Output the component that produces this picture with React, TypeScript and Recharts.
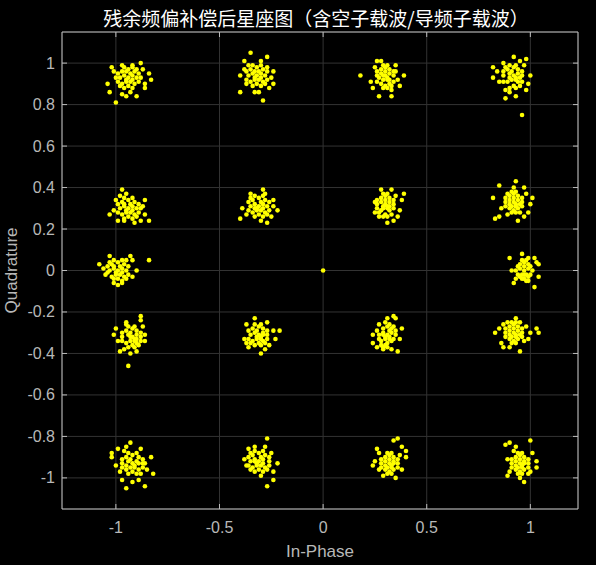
import React from 'react';
import {
  ScatterChart,
  Scatter,
  XAxis,
  YAxis,
  CartesianGrid,
  ReferenceArea,
} from 'recharts';

// axis limits and ticks
const X_DOMAIN: [number, number] = [-1.26, 1.23];
const Y_DOMAIN: [number, number] = [-1.15, 1.15];
const X_TICKS = [-1, -0.5, 0, 0.5, 1];
const Y_TICKS = [-1, -0.8, -0.6, -0.4, -0.2, 0, 0.2, 0.4, 0.6, 0.8, 1];

const TITLE = '残余频偏补偿后星座图（含空子载波/导频子载波）';
const X_LABEL = 'In-Phase';
const Y_LABEL = 'Quadrature';

type Pt = [number, number];

// row 1 (Q ~ 0.93)
const c11: Pt[] = [
  [-0.94, 0.93], [-0.92, 0.94], [-0.96, 0.94], [-0.93, 0.91], [-0.95, 0.91], [-0.91, 0.96], [-0.97, 0.96],
  [-0.91, 0.9], [-0.97, 0.9], [-0.9, 0.93], [-0.98, 0.93], [-0.94, 0.97], [-0.94, 0.89], [-0.89, 0.95],
  [-0.99, 0.95], [-0.89, 0.91], [-0.99, 0.91], [-0.92, 0.98], [-0.96, 0.98], [-0.92, 0.88], [-0.96, 0.88],
  [-0.93, 0.95], [-0.95, 0.96], [-0.9, 0.97], [-0.98, 0.89], [-0.88, 0.93], [-0.95, 0.92], [-0.92, 0.92],
  [-1.02, 0.98], [-1.04, 0.9], [-1.03, 0.86], [-1.0, 0.81], [-0.83, 0.92], [-0.84, 0.95], [-0.88, 1.0],
  [-0.9, 0.84], [-0.86, 0.9], [-0.97, 0.99], [-0.92, 0.99], [-0.97, 0.85], [-0.95, 0.84], [-1.01, 0.96],
  [-0.87, 0.97], [-1.0, 0.93], [-0.93, 0.86], [-0.86, 0.88],
];
const c12: Pt[] = [
  [-0.32, 0.94], [-0.3, 0.95], [-0.34, 0.95], [-0.31, 0.92], [-0.33, 0.92], [-0.29, 0.97], [-0.35, 0.97],
  [-0.29, 0.91], [-0.35, 0.91], [-0.28, 0.94], [-0.36, 0.94], [-0.32, 0.98], [-0.32, 0.9], [-0.27, 0.96],
  [-0.37, 0.96], [-0.27, 0.92], [-0.37, 0.92], [-0.3, 0.99], [-0.34, 0.99], [-0.3, 0.89], [-0.34, 0.89],
  [-0.31, 0.96], [-0.33, 0.93], [-0.28, 0.9], [-0.36, 0.99], [-0.3, 0.93], [-0.33, 0.96],
  [-0.35, 1.05], [-0.27, 1.03], [-0.38, 1.01], [-0.4, 0.94], [-0.4, 0.86], [-0.29, 0.82], [-0.24, 0.9],
  [-0.24, 0.96], [-0.31, 0.86], [-0.27, 0.98], [-0.37, 0.9], [-0.26, 0.88], [-0.33, 0.86], [-0.38, 0.97],
  [-0.25, 0.93], [-0.3, 1.01],
];
const c13: Pt[] = [
  [0.3, 0.94], [0.32, 0.95], [0.28, 0.95], [0.31, 0.92], [0.29, 0.92], [0.32, 0.97], [0.28, 0.97],
  [0.32, 0.9], [0.28, 0.9], [0.34, 0.94], [0.26, 0.94], [0.3, 0.98], [0.3, 0.89], [0.34, 0.96],
  [0.26, 0.96], [0.34, 0.91], [0.26, 0.91], [0.31, 0.99], [0.29, 0.99], [0.31, 0.88], [0.29, 0.88],
  [0.3, 0.96], [0.31, 0.93], [0.27, 0.93], [0.33, 0.89], [0.29, 0.94], [0.32, 0.92],
  [0.18, 0.94], [0.26, 1.01], [0.28, 1.01], [0.27, 0.84], [0.33, 0.84], [0.39, 0.94], [0.37, 0.89],
  [0.23, 0.91], [0.35, 0.96], [0.36, 0.92], [0.24, 0.88], [0.33, 0.87], [0.25, 0.98], [0.35, 0.99],
];
const c14: Pt[] = [
  [0.92, 0.94], [0.94, 0.95], [0.9, 0.95], [0.93, 0.92], [0.91, 0.92], [0.94, 0.97], [0.89, 0.97],
  [0.94, 0.91], [0.89, 0.91], [0.96, 0.94], [0.87, 0.94], [0.92, 0.98], [0.92, 0.89], [0.96, 0.96],
  [0.87, 0.96], [0.96, 0.91], [0.87, 0.91], [0.93, 0.99], [0.9, 0.99], [0.93, 0.88], [0.9, 0.88],
  [0.91, 0.96], [0.93, 0.93], [0.95, 0.89], [0.88, 0.98], [0.9, 0.93], [0.95, 0.93],
  [0.96, 0.75], [0.82, 0.98], [0.82, 0.93], [0.85, 0.91], [0.98, 1.02], [0.92, 1.03], [1.0, 0.94],
  [0.99, 0.9], [0.88, 0.83], [0.93, 0.84], [0.88, 0.87], [0.87, 1.0], [0.97, 0.99], [0.84, 0.96],
  [0.98, 0.87], [0.9, 0.86], [0.95, 1.01],
];

// row 2 (Q ~ 0.31)
const c21: Pt[] = [
  [-0.94, 0.3], [-0.92, 0.31], [-0.96, 0.31], [-0.93, 0.28], [-0.95, 0.28], [-0.91, 0.33], [-0.97, 0.33],
  [-0.91, 0.27], [-0.97, 0.27], [-0.9, 0.3], [-0.98, 0.3], [-0.94, 0.34], [-0.94, 0.26], [-0.89, 0.32],
  [-0.99, 0.32], [-0.89, 0.28], [-0.99, 0.28], [-0.92, 0.35], [-0.96, 0.35], [-0.92, 0.25], [-0.96, 0.25],
  [-0.93, 0.32], [-0.95, 0.29], [-0.9, 0.26], [-0.88, 0.3], [-0.92, 0.29], [-0.96, 0.32],
  [-1.03, 0.27], [-0.97, 0.39], [-0.84, 0.24], [-0.88, 0.24], [-0.91, 0.23], [-0.86, 0.27], [-0.86, 0.34],
  [-1.0, 0.34], [-0.96, 0.24], [-0.98, 0.36], [-0.87, 0.31], [-1.01, 0.29], [-0.95, 0.37], [-0.99, 0.24],
];
const c22: Pt[] = [
  [-0.31, 0.31], [-0.29, 0.32], [-0.33, 0.32], [-0.3, 0.29], [-0.32, 0.29], [-0.28, 0.34], [-0.34, 0.34],
  [-0.28, 0.28], [-0.34, 0.28], [-0.27, 0.31], [-0.35, 0.31], [-0.31, 0.35], [-0.31, 0.27], [-0.26, 0.33],
  [-0.36, 0.33], [-0.26, 0.29], [-0.36, 0.29], [-0.29, 0.36], [-0.33, 0.36], [-0.29, 0.26], [-0.33, 0.26],
  [-0.3, 0.33], [-0.32, 0.3], [-0.27, 0.27], [-0.35, 0.35], [-0.33, 0.3], [-0.29, 0.3],
  [-0.4, 0.25], [-0.29, 0.39], [-0.22, 0.29], [-0.27, 0.23], [-0.3, 0.24], [-0.39, 0.3], [-0.24, 0.31],
  [-0.35, 0.37], [-0.25, 0.26], [-0.28, 0.37], [-0.37, 0.27], [-0.24, 0.34],
];
const c23: Pt[] = [
  [0.3, 0.32], [0.32, 0.33], [0.28, 0.33], [0.31, 0.3], [0.29, 0.3], [0.32, 0.35], [0.28, 0.35],
  [0.32, 0.29], [0.28, 0.29], [0.34, 0.32], [0.26, 0.32], [0.3, 0.36], [0.3, 0.27], [0.34, 0.34],
  [0.26, 0.34], [0.34, 0.3], [0.26, 0.3], [0.31, 0.37], [0.29, 0.37], [0.31, 0.26], [0.29, 0.26],
  [0.3, 0.34], [0.31, 0.31], [0.33, 0.27], [0.27, 0.28], [0.29, 0.31], [0.32, 0.31],
  [0.39, 0.37], [0.31, 0.23], [0.28, 0.39], [0.33, 0.39], [0.25, 0.33], [0.38, 0.34], [0.37, 0.29],
  [0.27, 0.26], [0.36, 0.26], [0.35, 0.36], [0.25, 0.28], [0.34, 0.24],
];
const c24: Pt[] = [
  [0.92, 0.33], [0.94, 0.34], [0.9, 0.34], [0.93, 0.31], [0.91, 0.31], [0.94, 0.36], [0.9, 0.36],
  [0.94, 0.3], [0.9, 0.3], [0.96, 0.33], [0.88, 0.33], [0.92, 0.37], [0.92, 0.29], [0.96, 0.35],
  [0.88, 0.35], [0.96, 0.31], [0.88, 0.31], [0.93, 0.38], [0.91, 0.38], [0.93, 0.28], [0.91, 0.28],
  [0.92, 0.35], [0.93, 0.32], [0.95, 0.28], [0.89, 0.37], [0.9, 0.32], [0.95, 0.32],
  [0.93, 0.43], [0.85, 0.41], [0.82, 0.35], [1.01, 0.35], [0.83, 0.25], [0.85, 0.26], [0.94, 0.24],
  [0.97, 0.4], [0.92, 0.4], [0.99, 0.28], [0.98, 0.37], [0.86, 0.3], [0.97, 0.26], [0.89, 0.27],
  [1.0, 0.32],
];

// row 3 (Q ~ 0), incl. the single point at the origin
const c31: Pt[] = [
  [-0.99, 0.0], [-0.97, 0.01], [-1.01, 0.01], [-0.98, -0.02], [-1.0, -0.02], [-0.96, 0.03], [-1.02, 0.03],
  [-0.96, -0.03], [-1.02, -0.03], [-0.95, 0.0], [-1.03, 0.0], [-0.99, 0.04], [-0.99, -0.04], [-0.94, 0.02],
  [-1.04, 0.02], [-0.94, -0.02], [-1.04, -0.01], [-0.97, 0.05], [-1.01, 0.05], [-0.97, -0.05], [-1.01, -0.04],
  [-0.98, 0.02], [-1.0, -0.01], [-0.95, -0.04], [-1.03, 0.04], [-0.97, -0.01], [-1.01, 0.02],
  [-0.84, 0.05], [-1.08, 0.03], [-1.03, 0.07], [-0.93, 0.07], [-0.9, 0.0], [-1.01, -0.06], [-0.97, -0.06],
  [-0.92, 0.05], [-1.05, -0.02], [-0.92, -0.03], [-1.06, 0.01], [-0.95, 0.05], [-0.99, -0.07],
];
const origin: Pt[] = [[0, 0]];
const c33: Pt[] = [
  [0.97, 0.0], [0.99, 0.01], [0.95, 0.01], [0.98, -0.02], [0.96, -0.02], [0.99, 0.03], [0.95, 0.03],
  [0.99, -0.03], [0.95, -0.03], [1.01, 0.0], [0.93, 0.0], [0.97, 0.04], [0.97, -0.04], [1.0, 0.02],
  [0.94, 0.02], [1.0, -0.02], [0.94, -0.02], [0.98, 0.05], [0.96, 0.05], [0.98, -0.05], [0.96, -0.04],
  [0.97, 0.02], [0.97, -0.02],
  [0.9, 0.06], [0.96, 0.08], [1.03, 0.04], [1.04, 0.03], [1.04, -0.03], [1.02, -0.08], [0.92, -0.06],
  [0.99, -0.05], [0.91, 0.0], [1.02, 0.06], [0.93, -0.04], [0.99, 0.06],
];

// row 4 (Q ~ -0.31)
const c41: Pt[] = [
  [-0.92, -0.32], [-0.9, -0.31], [-0.94, -0.31], [-0.91, -0.34], [-0.93, -0.34], [-0.9, -0.29], [-0.95, -0.29],
  [-0.9, -0.35], [-0.95, -0.35], [-0.88, -0.32], [-0.97, -0.32], [-0.92, -0.28], [-0.92, -0.36], [-0.88, -0.3],
  [-0.97, -0.3], [-0.88, -0.34], [-0.97, -0.34], [-0.91, -0.27], [-0.94, -0.27], [-0.91, -0.37], [-0.94, -0.37],
  [-0.93, -0.3], [-0.91, -0.33], [-0.89, -0.36], [-0.95, -0.26], [-0.93, -0.32], [-0.9, -0.33],
  [-0.94, -0.46], [-1.01, -0.31], [-1.0, -0.28], [-0.98, -0.39], [-0.93, -0.4], [-0.9, -0.39], [-0.88, -0.22],
  [-0.88, -0.24], [-0.86, -0.34], [-0.99, -0.34], [-0.95, -0.25], [-0.87, -0.27], [-0.96, -0.38], [-0.86, -0.31],
];
const c42: Pt[] = [
  [-0.31, -0.31], [-0.29, -0.3], [-0.33, -0.3], [-0.3, -0.33], [-0.32, -0.33], [-0.29, -0.28], [-0.34, -0.28],
  [-0.29, -0.34], [-0.34, -0.34], [-0.27, -0.31], [-0.35, -0.31], [-0.31, -0.27], [-0.31, -0.35], [-0.27, -0.29],
  [-0.36, -0.29], [-0.27, -0.33], [-0.36, -0.33], [-0.3, -0.26], [-0.33, -0.26], [-0.3, -0.36], [-0.33, -0.36],
  [-0.32, -0.29], [-0.3, -0.32], [-0.28, -0.35], [-0.35, -0.35], [-0.32, -0.32], [-0.29, -0.31],
  [-0.33, -0.23], [-0.21, -0.29], [-0.24, -0.29], [-0.37, -0.35], [-0.3, -0.4], [-0.28, -0.38], [-0.38, -0.33],
  [-0.27, -0.25], [-0.23, -0.33], [-0.36, -0.37], [-0.26, -0.36], [-0.37, -0.26],
];
const c43: Pt[] = [
  [0.31, -0.31], [0.33, -0.3], [0.29, -0.3], [0.32, -0.33], [0.3, -0.33], [0.33, -0.28], [0.29, -0.28],
  [0.33, -0.34], [0.28, -0.34], [0.35, -0.31], [0.27, -0.31], [0.31, -0.27], [0.31, -0.35], [0.35, -0.29],
  [0.26, -0.29], [0.34, -0.33], [0.27, -0.33], [0.32, -0.26], [0.3, -0.25], [0.3, -0.36], [0.28, -0.36],
  [0.32, -0.29], [0.3, -0.32], [0.34, -0.27], [0.29, -0.37], [0.29, -0.31], [0.32, -0.32],
  [0.24, -0.35], [0.34, -0.22], [0.35, -0.23], [0.27, -0.26], [0.29, -0.38], [0.36, -0.39], [0.31, -0.37],
  [0.24, -0.31], [0.31, -0.23], [0.38, -0.28], [0.37, -0.33], [0.26, -0.37], [0.33, -0.38],
];
const c44: Pt[] = [
  [0.92, -0.3], [0.94, -0.29], [0.9, -0.29], [0.93, -0.32], [0.91, -0.32], [0.94, -0.27], [0.9, -0.27],
  [0.94, -0.33], [0.9, -0.33], [0.96, -0.3], [0.88, -0.3], [0.92, -0.26], [0.92, -0.34], [0.96, -0.28],
  [0.88, -0.28], [0.96, -0.32], [0.88, -0.32], [0.93, -0.25], [0.91, -0.25], [0.93, -0.35], [0.91, -0.35],
  [0.92, -0.28], [0.93, -0.31], [0.97, -0.34], [0.87, -0.26], [0.9, -0.31], [0.95, -0.31],
  [0.83, -0.3], [1.04, -0.3], [1.03, -0.28], [0.95, -0.39], [0.86, -0.35], [0.87, -0.37], [0.93, -0.23],
  [0.95, -0.25], [0.89, -0.25], [0.99, -0.33], [0.98, -0.27], [0.85, -0.28], [0.9, -0.37], [1.0, -0.3],
];

// row 5 (Q ~ -0.93)
const c51: Pt[] = [
  [-0.92, -0.93], [-0.9, -0.92], [-0.94, -0.92], [-0.91, -0.95], [-0.93, -0.95], [-0.89, -0.9], [-0.95, -0.9],
  [-0.89, -0.96], [-0.95, -0.96], [-0.87, -0.93], [-0.97, -0.93], [-0.92, -0.89], [-0.92, -0.97], [-0.87, -0.91],
  [-0.97, -0.91], [-0.87, -0.95], [-0.97, -0.95], [-0.9, -0.88], [-0.94, -0.88], [-0.9, -0.98], [-0.94, -0.98],
  [-0.93, -0.91], [-0.91, -0.94], [-0.88, -0.98], [-0.96, -0.87], [-0.86, -0.93], [-0.98, -0.97],
  [-0.95, -0.94], [-0.89, -0.93],
  [-1.02, -0.88], [-1.02, -0.9], [-0.93, -0.83], [-0.95, -1.05], [-0.86, -1.04], [-0.82, -0.98], [-0.83, -0.9],
  [-0.92, -1.02], [-0.97, -1.01], [-0.85, -0.96], [-0.99, -0.86], [-0.95, -0.85], [-0.88, -0.86], [-0.89, -1.01],
  [-1.0, -0.94],
];
const c52: Pt[] = [
  [-0.31, -0.92], [-0.29, -0.91], [-0.33, -0.91], [-0.3, -0.94], [-0.32, -0.94], [-0.28, -0.89], [-0.34, -0.89],
  [-0.28, -0.95], [-0.34, -0.95], [-0.26, -0.92], [-0.35, -0.92], [-0.31, -0.88], [-0.31, -0.96], [-0.26, -0.9],
  [-0.36, -0.9], [-0.26, -0.94], [-0.36, -0.94], [-0.29, -0.87], [-0.33, -0.87], [-0.29, -0.97], [-0.33, -0.97],
  [-0.3, -0.9], [-0.32, -0.93], [-0.27, -0.96], [-0.35, -0.88], [-0.29, -0.93], [-0.33, -0.92],
  [-0.27, -0.81], [-0.28, -0.85], [-0.27, -1.04], [-0.24, -1.01], [-0.38, -0.91], [-0.36, -0.86], [-0.22, -0.93],
  [-0.24, -0.97], [-0.35, -0.96], [-0.25, -0.88], [-0.37, -0.94], [-0.3, -0.99], [-0.33, -0.85],
];
const c53: Pt[] = [
  [0.32, -0.93], [0.34, -0.92], [0.3, -0.92], [0.33, -0.95], [0.31, -0.95], [0.34, -0.9], [0.3, -0.9],
  [0.34, -0.96], [0.3, -0.96], [0.36, -0.93], [0.28, -0.93], [0.32, -0.89], [0.32, -0.97], [0.36, -0.91],
  [0.28, -0.91], [0.36, -0.95], [0.28, -0.95], [0.33, -0.88], [0.31, -0.88], [0.33, -0.98], [0.31, -0.98],
  [0.32, -0.91], [0.33, -0.94], [0.37, -0.89], [0.27, -0.96], [0.3, -0.94], [0.34, -0.93],
  [0.36, -0.81], [0.34, -0.82], [0.24, -0.94], [0.26, -0.86], [0.35, -1.0], [0.4, -0.87], [0.4, -0.9],
  [0.27, -0.88], [0.25, -0.92], [0.38, -0.96], [0.29, -0.99], [0.38, -0.85],
];
const c54: Pt[] = [
  [0.95, -0.93], [0.97, -0.92], [0.93, -0.92], [0.96, -0.95], [0.94, -0.95], [0.97, -0.9], [0.93, -0.9],
  [0.97, -0.96], [0.93, -0.96], [0.99, -0.93], [0.91, -0.93], [0.95, -0.89], [0.95, -0.97], [0.99, -0.91],
  [0.91, -0.91], [0.99, -0.95], [0.91, -0.95], [0.96, -0.88], [0.94, -0.88], [0.96, -0.98], [0.94, -0.98],
  [0.95, -0.91], [0.96, -0.94], [1.0, -0.97], [0.92, -0.87], [0.93, -0.94], [0.97, -0.93],
  [0.88, -0.84], [0.9, -0.83], [1.0, -0.82], [0.97, -1.02], [0.89, -0.99], [1.03, -0.95], [1.03, -0.92],
  [0.93, -0.85], [0.99, -0.98], [0.9, -0.97], [1.01, -0.88], [0.89, -0.91], [0.95, -1.0],
];

const clusters: Pt[][] = [
  c11, c12, c13, c14, c21, c22, c23, c24, c31, origin, c33, c41, c42, c43, c44, c51, c52, c53, c54,
];
const points = clusters.flat().map(([i, q]) => ({ i, q }));

const W = 596;
const H = 565;
const PLOT_LEFT = 62;
const PLOT_TOP = 32;
const PLOT_RIGHT = 578;
const PLOT_BOTTOM = 509;

const AXIS_GRAY = '#bdbdbd';
const TEXT_GRAY = '#b8b8b8';
const GRID = '#333333';
const FONT = '"Liberation Sans", Arial, Helvetica, sans-serif';

const XTick = (props: any) => {
  const { x, payload } = props;
  return (
    <g>
      <line x1={x} x2={x} y1={PLOT_BOTTOM} y2={PLOT_BOTTOM - 5} stroke={AXIS_GRAY} />
      <line x1={x} x2={x} y1={PLOT_TOP} y2={PLOT_TOP + 5} stroke={AXIS_GRAY} />
      <text x={x} y={533} textAnchor="middle" fill={TEXT_GRAY} fontSize={16} fontFamily={FONT}>
        {String(payload.value)}
      </text>
    </g>
  );
};

const YTick = (props: any) => {
  const { y, payload } = props;
  return (
    <g>
      <line x1={PLOT_LEFT} x2={PLOT_LEFT + 5} y1={y} y2={y} stroke={AXIS_GRAY} />
      <line x1={PLOT_RIGHT} x2={PLOT_RIGHT - 5} y1={y} y2={y} stroke={AXIS_GRAY} />
      <text x={55} y={y + 5.5} textAnchor="end" fill={TEXT_GRAY} fontSize={16} fontFamily={FONT}>
        {String(payload.value)}
      </text>
    </g>
  );
};

const Dot = (props: any) => <circle cx={props.cx} cy={props.cy} r={2.3} fill="#ffff00" />;

export default function App() {
  return (
    <div style={{ position: 'absolute', left: 0, top: 0, width: W, height: H, background: '#000' }}>
      <ScatterChart
        width={W}
        height={H}
        margin={{ top: PLOT_TOP, right: W - PLOT_RIGHT, bottom: 0, left: 0 }}
      >
        <CartesianGrid stroke={GRID} strokeWidth={1} />
        <XAxis
          type="number"
          dataKey="i"
          domain={X_DOMAIN}
          ticks={X_TICKS}
          allowDataOverflow
          height={H - PLOT_BOTTOM}
          tickLine={false}
          axisLine={false}
          tick={<XTick />}
          interval={0}
        />
        <YAxis
          type="number"
          dataKey="q"
          domain={Y_DOMAIN}
          ticks={Y_TICKS}
          allowDataOverflow
          width={PLOT_LEFT}
          tickLine={false}
          axisLine={false}
          tick={<YTick />}
          interval={0}
        />
        <ReferenceArea
          x1={X_DOMAIN[0]}
          x2={X_DOMAIN[1]}
          y1={Y_DOMAIN[0]}
          y2={Y_DOMAIN[1]}
          fill="none"
          fillOpacity={0}
          stroke={AXIS_GRAY}
          strokeWidth={1}
        />
        <Scatter data={points} shape={<Dot />} isAnimationActive={false} />
        <text
          x={316}
          y={25.5}
          textAnchor="middle"
          fill="#ffffff"
          fontSize={19}
          fontFamily='"Noto Sans CJK SC", sans-serif'
        >
          {TITLE}
        </text>
        <text
          x={(PLOT_LEFT + PLOT_RIGHT) / 2}
          y={557}
          textAnchor="middle"
          fill={TEXT_GRAY}
          fontSize={17}
          fontFamily={FONT}
        >
          {X_LABEL}
        </text>
        <text
          x={17}
          y={(PLOT_TOP + PLOT_BOTTOM) / 2}
          transform={`rotate(-90 17 ${(PLOT_TOP + PLOT_BOTTOM) / 2})`}
          textAnchor="middle"
          fill={TEXT_GRAY}
          fontSize={17}
          fontFamily={FONT}
        >
          {Y_LABEL}
        </text>
      </ScatterChart>
    </div>
  );
}
